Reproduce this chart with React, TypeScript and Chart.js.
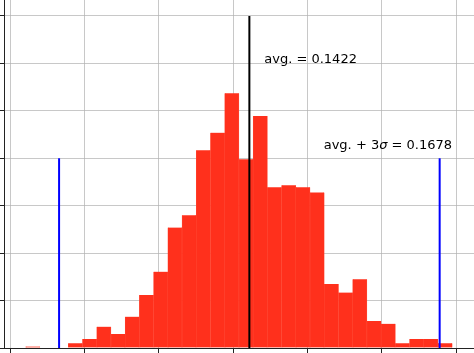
import React, { useEffect, useRef } from "react";
import { Chart, registerables } from "chart.js";

Chart.register(...registerables);

// Histogram bins (30 equal bins)
const binStart = 0.1121;
const binWidth = 0.001913;
const binCounts = [
  0.3, 0, 0, 1.0, 1.9, 4.5, 2.95, 6.6, 11.2, 16.1,
  25.4, 28.0, 41.7, 45.4, 53.7, 39.8, 48.9, 33.9, 34.3, 33.9,
  32.8, 13.5, 11.7, 14.5, 5.7, 5.1, 1.0, 1.9, 1.9, 1.0,
];

// Axis ticks
const xTicks = [0.11, 0.12, 0.13, 0.14, 0.15, 0.16, 0.17];
const yTicks = [0, 10, 20, 30, 40, 50, 60, 70];
const xMin = 0.10919;
const xMax = 0.17242;
const yMin = 0;
const yMax = 73.37;

// Reference lines: avg - 3σ, avg, avg + 3σ
const vlineX = [0.1166, 0.1422, 0.1678];
const vlineTop = [40, 70, 40];

// Annotations
const labelX = [0.1442, 0.1522];
const labelY = [60, 42];
const labelParts: [string, boolean][][] = [
  [["avg. = 0.1422", false]],
  [["avg. + 3", false], ["σ", true], [" = 0.1678", false]],
];

const BAR_COLOR = "#ff301c";
const LINE_COLORS = ["#0000ff", "#000000", "#0000ff"];
const GRID_COLOR = "rgba(176,176,176,0.7)";
const AXIS_COLOR = "#222222";

const overlayPlugin = {
  id: "overlay",
  afterDraw(chart: any) {
    const { ctx } = chart;
    const x = chart.scales.x;
    const y = chart.scales.y;
    ctx.save();
    vlineX.forEach((v, i) => {
      const px = x.getPixelForValue(v);
      ctx.beginPath();
      ctx.moveTo(px, y.getPixelForValue(0));
      ctx.lineTo(px, y.getPixelForValue(vlineTop[i]));
      ctx.strokeStyle = LINE_COLORS[i];
      ctx.lineWidth = 2;
      ctx.stroke();
    });
    ctx.fillStyle = "#000";
    ctx.textBaseline = "alphabetic";
    ctx.textAlign = "left";
    labelParts.forEach((parts, i) => {
      let px = x.getPixelForValue(labelX[i]);
      const py = y.getPixelForValue(labelY[i]);
      parts.forEach(([txt, italic]) => {
        ctx.font = (italic ? "italic " : "") + '13px "DejaVu Sans"';
        ctx.fillText(txt, px, py);
        px += ctx.measureText(txt).width;
      });
    });
    ctx.restore();
  },
};

export default function App() {
  const canvasRef = useRef<HTMLCanvasElement | null>(null);

  useEffect(() => {
    if (!canvasRef.current) return;
    const data = binCounts.map((c, i) => ({ x: binStart + (i + 0.5) * binWidth, y: c }));
    const chart = new Chart(canvasRef.current, {
      type: "bar",
      data: {
        datasets: [
          {
            data,
            backgroundColor: BAR_COLOR,
            borderColor: "#ff4c38",
            borderWidth: { left: 0.5, right: 0.5, top: 0, bottom: 0 },
            barPercentage: 1,
            categoryPercentage: 1,
          } as any,
        ],
      },
      options: {
        animation: false,
        responsive: true,
        maintainAspectRatio: false,
        layout: { padding: 0 },
        plugins: { legend: { display: false }, tooltip: { enabled: false } },
        scales: {
          x: {
            type: "linear",
            min: xMin,
            max: xMax,
            offset: false,
            z: 1,
            grid: {
              color: GRID_COLOR,
              lineWidth: 1,
              offset: false,
              drawTicks: true,
              tickLength: 5,
              tickColor: AXIS_COLOR,
            },
            border: { color: AXIS_COLOR, width: 1 },
            ticks: { display: false, includeBounds: false },
            afterBuildTicks: (scale: any) => {
              scale.ticks = xTicks.map((v) => ({ value: v }));
            },
          },
          y: {
            type: "linear",
            min: yMin,
            max: yMax,
            z: 1,
            grid: {
              color: GRID_COLOR,
              lineWidth: 1,
              drawTicks: true,
              tickLength: 4,
              tickColor: AXIS_COLOR,
            },
            border: { color: AXIS_COLOR, width: 1 },
            ticks: { display: false, includeBounds: false },
            afterBuildTicks: (scale: any) => {
              scale.ticks = yTicks.map((v) => ({ value: v }));
            },
          },
        },
      } as any,
      plugins: [overlayPlugin],
    });
    return () => chart.destroy();
  }, []);

  return (
    <div style={{ position: "absolute", left: 0, top: 0, width: 474, height: 353, background: "#fff" }}>
      <canvas ref={canvasRef} />
    </div>
  );
}
